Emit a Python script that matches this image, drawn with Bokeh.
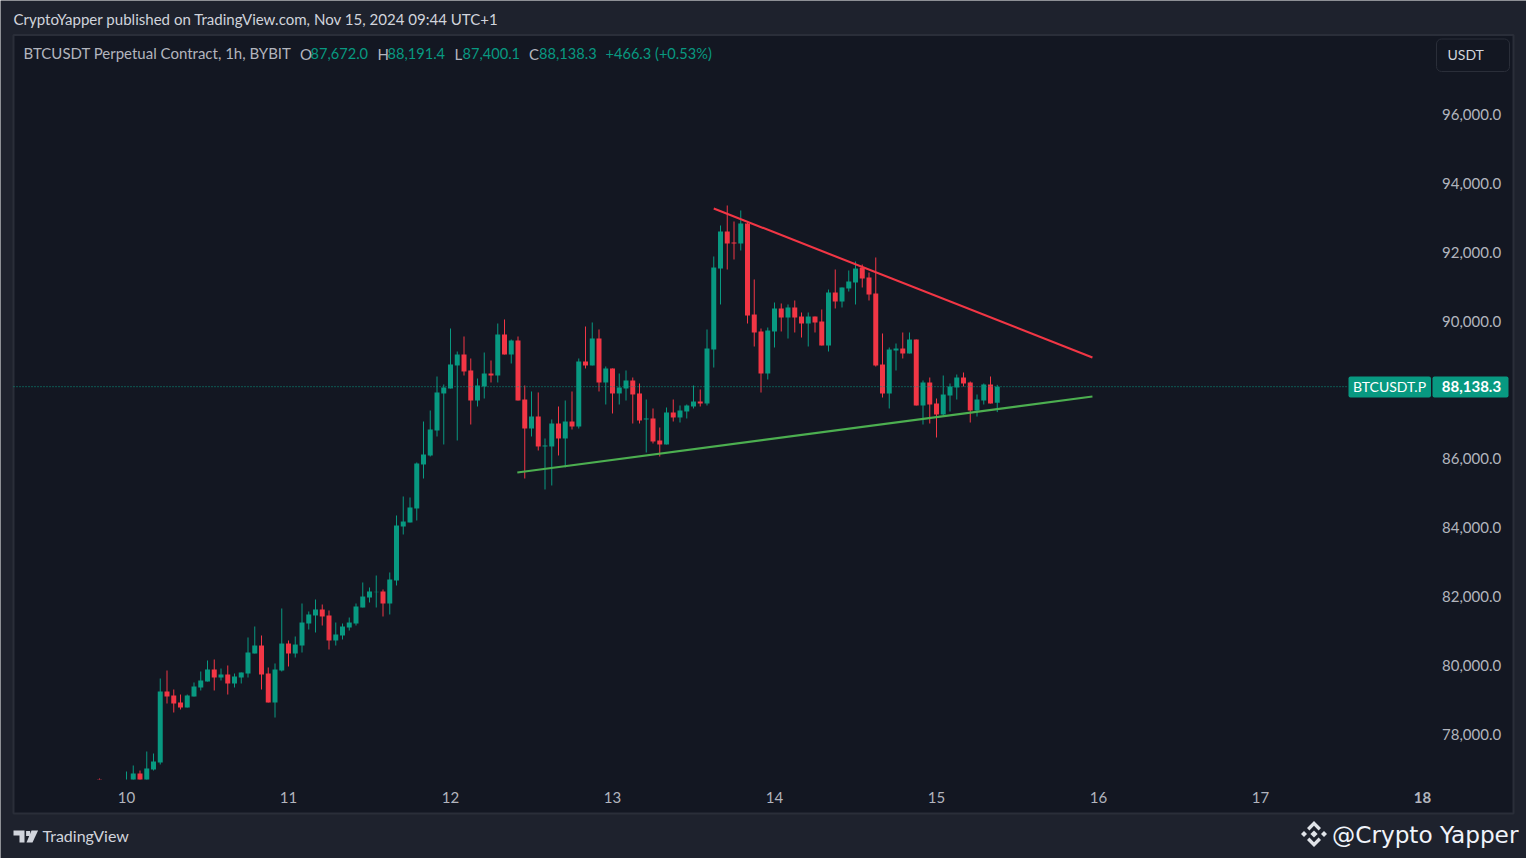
from bokeh.embed import file_html
from bokeh.resources import INLINE
from bokeh.plotting import figure
from bokeh.models import (ColumnDataSource, FixedTicker, NumeralTickFormatter, Label,
                          BoxAnnotation, PolyAnnotation, Range1d)

# Hours since 10 Nov 00:00 for each 1h candle
hours = [-4] + list(range(0, 130))

opens = [76740,
 76730,76730,76905,76730,77021,77225,79287,79170,78967,78822,79141,79403,79577,79925,79693,79780,79519,79693,79809,80390,
 80622,79809,78967,79896,80680,80390,80622,81261,81494,81668,81494,80768,80913,81145,81261,81726,82016,82171,82191,81842,
 82510,84078,84195,84601,85879,86140,86866,87941,88086,88754,89073,88609,87737,88144,88521,88463,89654,89073,89480,87766,
 86924,87273,86402,86402,87069,86634,87127,86982,88870,88754,89538,88260,88667,87941,88086,88318,87941,87186,87215,86576,
 86460,87389,87244,87418,87563,87708,87650,89218,91570,92645,92325,92296,92877,90234,89741,88521,89741,90409,90147,90438,
 90176,89973,90176,90031,89334,90873,90612,90990,91164,91599,91309,90844,88782,87940,89189,89247,89102,89508,87592,88260,
 87650,87331,87882,88115,88405,88260,87447,87737,88202,87672.0]

highs = [76760,
 76963,77138,76992,77544,77486,79664,79896,79345,79199,79199,79548,79867,80187,80216,79954,80042,79809,79838,80855,81174,
 80913,79984,80100,81697,80768,80884,81842,81610,81958,81813,81639,81290,81261,81435,81842,82452,82307,82655,82249,82743,
 84398,84950,84921,85937,87127,87447,88434,88202,89828,89160,89596,88957,88376,89131,88899,89973,90090,89509,89596,88173,
 87999,87970,86634,87186,87563,87737,87999,88957,89886,90003,89799,88725,88667,88521,88609,88405,88231,87766,87505,86953,
 87534,87766,87592,87621,88173,88057,89799,91919,92819,93400,92935,93255,92906,91251,89828,89857,90583,90554,90525,90641,
 90293,90293,90176,90380,90960,91541,91019,91512,91774,91686,91454,91890,89683,89276,89392,89712,89712,89508,88318,88405,
 87795,88463,88231,88492,88550,88289,87911,88231,88434,88191.4]

lows = [76731,
 76730,76730,76730,76730,76992,77167,78938,78677,78764,78822,79141,79316,79577,79316,79606,79199,79403,79519,79693,80390,
 79345,78967,78531,79867,80013,80274,80419,81087,81000,81203,80506,80622,80797,81058,81203,81726,81871,81726,81465,81523,
 82365,83846,84195,84253,85472,86111,86692,86460,88086,86576,88463,87040,87563,87795,88260,88260,89073,88812,87737,85472,
 86692,86285,85153,85269,86140,85792,86895,86924,88667,88754,87999,87621,87360,87621,87737,87069,87069,86227,86489,86111,
 86460,87127,87098,87215,87505,87563,87592,88695,90525,91541,91832,92093,89973,89305,87969,88347,89276,89741,89537,89712,
 89566,89305,89712,89334,89160,90409,90438,90902,90525,91019,90641,88724,87824,87505,88608,88957,89102,87592,87040,87069,
 86663,87301,87417,87766,88144,87098,87272,87621,87650,87400.1]

closes = [76731,
 76730,76905,76730,77050,77254,79287,79141,78938,78822,79170,79432,79606,79925,79693,79780,79519,79722,79838,80419,80622,
 79780,78967,79925,80680,80390,80651,81290,81523,81668,81465,80768,80942,81174,81290,81755,82045,82191,82181,81842,82539,
 84107,84223,84630,85908,86169,86895,87970,88115,88783,89073,88580,87737,88173,88521,88463,89654,89073,89480,87737,86924,
 87273,86402,86431,87069,86634,87127,86982,88870,88754,89538,88260,88667,87941,88115,88318,87912,87157,87215,86547,86460,
 87389,87244,87447,87592,87708,87650,89247,91599,92645,92296,92296,92877,90205,89712,88521,89770,90409,90147,90438,90147,
 89973,90176,90002,89334,90873,90612,91019,91193,91570,91280,90815,88754,87940,89218,89247,89102,89508,87592,88260,87621,
 87331,87911,88144,88405,88231,87447,87766,88202,87650,88138.3]

price_ticks = [78000, 80000, 82000, 84000, 86000, 90000, 92000, 94000, 96000]
day_labels = ["10", "11", "12", "13", "14", "15", "16", "17", "18"]
day_hours = [0, 24, 48, 72, 96, 120, 144, 168, 192]

last_price = 88138.3
resistance_x = [87, 143.1]
resistance_y = [93313, 88986]
support_x = [57.9, 143.1]
support_y = [85646, 87854]

UP, DOWN = "#089981", "#f23645"
BG, PANEL, EDGE = "#1e222d", "#131722", "#2a2e39"
FONT = "Lato"

W, H = 1526, 858
p = figure(width=W, height=H, output_backend="svg", toolbar_location=None,
           x_range=(-18.667, 207.407), y_range=(74437, 99353),
           background_fill_color=BG, border_fill_color=BG,
           min_border_left=0, min_border_right=0, min_border_top=0, min_border_bottom=0)
p.outline_line_color = None
p.grid.visible = False

def sx(v): return v
def sy(v): return H - v

# Chart panel
p.add_layout(BoxAnnotation(left=sx(13), right=sx(1513), top=sy(34.5), bottom=sy(813),
                           left_units="screen", right_units="screen",
                           top_units="screen", bottom_units="screen",
                           fill_color=PANEL, fill_alpha=1, line_color=EDGE, line_alpha=1,
                           line_width=2, level="underlay"))

colors = [UP if c >= o else DOWN for o, c in zip(opens, closes)]
src = ColumnDataSource(dict(x=hours, o=opens, h=highs, l=lows, c=closes, color=colors))
p.segment("x", "h", "x", "l", color="color", line_width=1, source=src)
src_b = ColumnDataSource(dict(x=hours,
                              top=[max(a, b) for a, b in zip(opens, closes)],
                              bottom=[min(a, b) for a, b in zip(opens, closes)],
                              color=colors))
p.vbar(x="x", top="top", bottom="bottom", width=0.74, fill_color="color", line_color=None, source=src_b)

p.line([-16.74, 181], [last_price, last_price], line_color=UP, line_width=1, line_dash=[1, 2])
p.line(resistance_x, resistance_y, line_color="#f23645", line_width=2.1)
p.line(support_x, support_y, line_color="#4caf50", line_width=2.1)

# Price axis and time axis sit inside the panel; the price labels sit 1.5px above their level
p.extra_y_ranges = {"labels": Range1d(74437 - 44, 99353 - 44)}
yax = p.yaxis[0]
yax.y_range_name = "labels"
yax.fixed_location = 204.55
yax.ticker = FixedTicker(ticks=price_ticks)
yax.formatter = NumeralTickFormatter(format="0,0.0")
xax = p.xaxis[0]
xax.fixed_location = 76536
xax.ticker = FixedTicker(ticks=day_hours[:-1])
xax.major_label_overrides = dict(zip(day_hours[:-1], day_labels[:-1]))
for ax in (xax, yax):
    ax.axis_line_color = None
    ax.major_tick_line_color = None
    ax.minor_tick_line_color = None
    ax.major_label_standoff = 0
    ax.major_label_text_color = "#b2b5be"
    ax.major_label_text_font = FONT
    ax.major_label_text_font_size = "15px"

def text(x, y, s, color="#b2b5be", size="15px", font=FONT, align="left", style="normal"):
    p.add_layout(Label(x=sx(x), y=sy(y), x_units="screen", y_units="screen", text=s,
                       text_color=color, text_font=font, text_font_size=size,
                       text_align=align, text_baseline="middle", text_font_style=style))

def box(l, r, t, b, fill, line=None, radius=0):
    p.add_layout(BoxAnnotation(left=sx(l), right=sx(r), top=sy(t), bottom=sy(b),
                               left_units="screen", right_units="screen",
                               top_units="screen", bottom_units="screen",
                               fill_color=fill, fill_alpha=1, line_color=line,
                               line_alpha=1 if line else 0, border_radius=radius, level="glyph"))

def poly(pts, color):
    p.add_layout(PolyAnnotation(xs=[sx(a) for a, _ in pts], ys=[sy(b) for _, b in pts],
                                xs_units="screen", ys_units="screen", fill_color=color,
                                fill_alpha=1, line_color=None))

text(1422, 796.5, day_labels[-1], align="center", style="bold")
text(13, 18.5, "CryptoYapper published on TradingView.com, Nov 15, 2024 09:44 UTC+1", color="#d1d4dc", size="15.05px")
text(23, 52.5, "BTCUSDT Perpetual Contract, 1h, BYBIT")
for x, s in [(299.5, "O"), (377, "H"), (454, "L"), (528.5, "C")]:
    text(x, 53, s)
for x, s in [(310, "87,672.0"), (387, "88,191.4"), (462, "87,400.1"), (538.6, "88,138.3"), (605, "+466.3 (+0.53%)")]:
    text(x, 53, s, color=UP, size="14.6px")

# Currency button
box(1436, 1509, 38.5, 71, PANEL, line=EDGE, radius=5)
text(1447, 53.5, "USDT", color="#d1d4dc", size="14px")

# Last price tag
box(1348, 1430.5, 376, 397, UP, radius=2)
box(1432, 1508, 376, 397, UP, radius=2)
text(1389, 385.5, "BTCUSDT.P", color="#ffffff", size="14px", align="center")
text(1471, 385.5, "88,138.3", color="#ffffff", size="15px", align="center", style="bold")

# Footer brand
L = "#d1d4dc"
poly([(13, 830), (24, 830), (24, 842), (19, 842), (19, 835), (13, 835)], L)
poly([(25.6, 830.5), (29.6, 830.5), (29.6, 835.5), (25.6, 835.5)], L)
poly([(31, 830), (37.6, 830), (32, 842), (26, 842)], L)
text(42, 835, "TradingView", color=L, size="16px")

W2 = "#e0e3e8"
cx, cy = 1313.5, 833.5
def dia(dx, dy, r): return [(cx + dx, cy + dy - r), (cx + dx + r, cy + dy), (cx + dx, cy + dy + r), (cx + dx - r, cy + dy)]
poly(dia(0, 0, 3.6), W2)
poly(dia(-10, 0, 3), W2)
poly(dia(10, 0, 3), W2)
poly([(cx, cy - 13), (cx + 7, cy - 6), (cx + 4.6, cy - 3.6), (cx, cy - 8.2), (cx - 4.6, cy - 3.6), (cx - 7, cy - 6)], W2)
poly([(cx, cy + 13), (cx + 7, cy + 6), (cx + 4.6, cy + 3.6), (cx, cy + 8.2), (cx - 4.6, cy + 3.6), (cx - 7, cy + 6)], W2)
text(1331.5, 834, "@Crypto Yapper", color="#f0f3fa", size="23.2px", font="DejaVu Sans")

open("out.html", "w").write(file_html(p, INLINE))
